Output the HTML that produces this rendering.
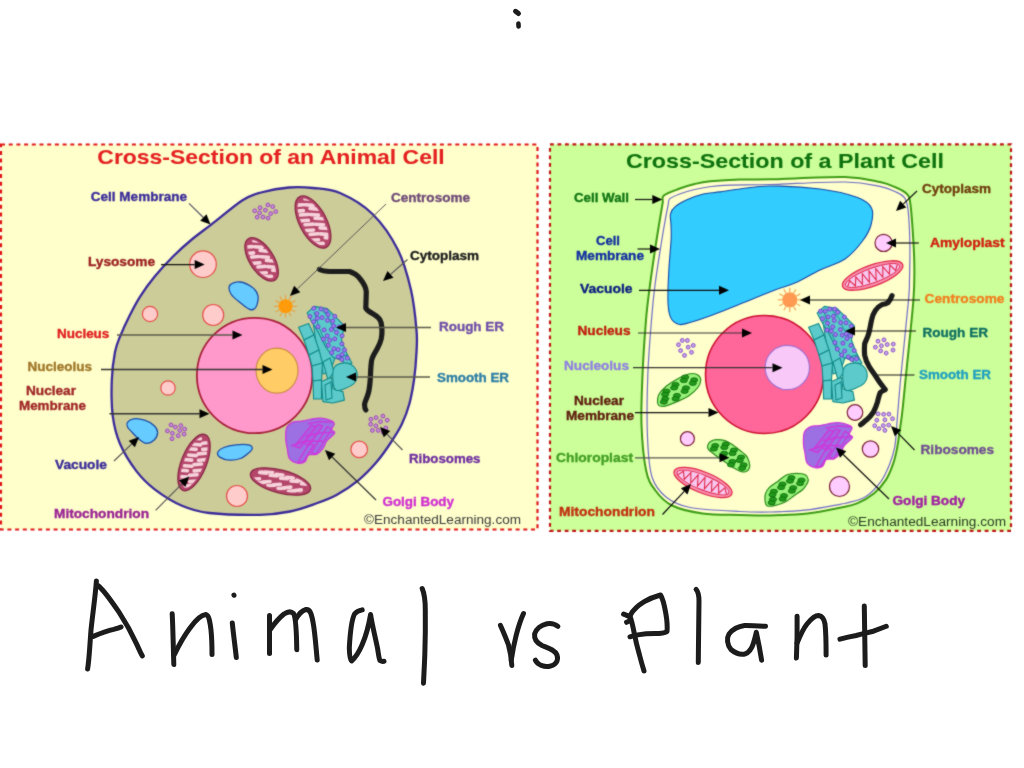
<!DOCTYPE html><html><head><meta charset="utf-8"><style>html,body{margin:0;padding:0;background:#fff;width:1024px;height:768px;overflow:hidden}svg{display:block;font-family:"Liberation Sans",sans-serif}</style></head><body>
<svg width="1024" height="768" viewBox="0 0 1024 768">
<rect width="1024" height="768" fill="#fff"/>
<g stroke="#1c1c1c" stroke-linecap="round" fill="none"><line x1="515.5" y1="11.3" x2="518.5" y2="13.6" stroke-width="5"/><line x1="518.4" y1="23.5" x2="518.6" y2="26.5" stroke-width="4.6"/></g>
<defs><filter id="soft" filterUnits="userSpaceOnUse" x="0" y="0" width="1024" height="768" color-interpolation-filters="sRGB"><feConvolveMatrix order="3" kernelMatrix="1 2 1 2 14 2 1 2 1" edgeMode="duplicate"/></filter></defs>
<g filter="url(#soft)">
<rect x="1" y="144.5" width="536.5" height="385" fill="#FFFFCC"/>
<rect x="1" y="144.5" width="536.5" height="385" fill="none" stroke="#E01818" stroke-width="2.2" stroke-dasharray="4 3.7"/>
<text x="97.3" y="163.6" fill="#E42020" stroke="#E42020" stroke-width="0.1" font-size="20.2" font-weight="bold" textLength="347.4" lengthAdjust="spacingAndGlyphs">Cross-Section of an Animal Cell</text>
<path d="M289.0,187.5 C297.7,186.8 304.5,187.1 313.0,188.0 C321.5,188.9 330.1,188.7 340.0,193.0 C349.9,197.3 362.8,204.5 372.5,214.0 C382.2,223.5 391.6,237.3 398.0,250.0 C404.4,262.7 407.9,276.7 411.0,290.0 C414.1,303.3 415.6,319.7 416.5,330.0 C417.4,340.3 416.9,343.7 416.5,352.0 C416.1,360.3 415.2,371.4 414.0,380.0 C412.8,388.6 411.4,396.4 409.4,403.7 C407.4,411.0 405.0,417.4 402.0,423.8 C399.0,430.2 395.4,435.6 391.2,442.0 C387.0,448.4 382.1,455.6 376.6,462.0 C371.1,468.4 365.0,474.8 358.3,480.3 C351.6,485.8 343.8,490.9 336.5,494.9 C329.2,498.8 322.4,501.2 314.6,504.0 C306.9,506.8 299.1,509.7 290.0,511.5 C280.9,513.3 273.4,514.6 260.0,514.9 C246.6,515.1 222.3,514.5 209.3,513.0 C196.3,511.5 191.1,509.6 182.0,505.7 C172.9,501.8 162.3,495.1 154.7,489.3 C147.1,483.5 142.2,478.7 136.4,471.1 C130.6,463.5 123.9,452.9 120.0,443.8 C116.1,434.7 114.2,427.0 112.8,416.4 C111.4,405.8 111.4,390.7 111.8,380.0 C112.2,369.3 113.6,359.2 115.0,352.0 C116.4,344.8 117.6,342.6 120.0,336.7 C122.4,330.8 125.8,323.3 129.2,316.6 C132.5,309.9 135.8,303.3 140.1,296.6 C144.3,289.9 149.2,283.2 154.7,276.5 C160.2,269.8 166.9,262.6 173.0,256.5 C179.1,250.4 184.8,245.3 191.2,240.0 C197.6,234.7 202.6,231.2 211.2,224.6 C219.8,218.0 234.2,205.7 242.5,200.3 C250.8,195.0 253.2,194.6 261.0,192.5 C268.8,190.4 280.3,188.2 289.0,187.5 Z" fill="#CCCC99" stroke="#3A2A9A" stroke-width="2.3"/>
<circle cx="203" cy="264.2" r="13.3" fill="#FFCCCC" stroke="#E4504A" stroke-width="1.2"/>
<circle cx="150" cy="314" r="7.6" fill="#FFCCCC" stroke="#E4504A" stroke-width="1.2"/>
<circle cx="213.2" cy="315" r="10.5" fill="#FFCCCC" stroke="#E4504A" stroke-width="1.2"/>
<circle cx="168" cy="388" r="7.2" fill="#FFCCCC" stroke="#E4504A" stroke-width="1.2"/>
<circle cx="237" cy="496" r="10.5" fill="#FFCCCC" stroke="#E4504A" stroke-width="1.2"/>
<circle cx="359.2" cy="449.4" r="8.3" fill="#FFCCCC" stroke="#E4504A" stroke-width="1.2"/>
<path d="M230.0,285.0 C231.5,283.0 236.2,281.6 240.0,282.0 C243.8,282.4 249.5,285.2 252.5,287.5 C255.5,289.8 257.4,292.8 258.0,296.0 C258.6,299.2 257.3,304.8 256.0,307.0 C254.7,309.2 252.7,310.2 250.0,309.5 C247.3,308.8 243.2,305.1 240.0,302.5 C236.8,299.9 232.7,296.9 231.0,294.0 C229.3,291.1 228.5,287.0 230.0,285.0 Z" fill="#66CCFF" stroke="#1E4EA8" stroke-width="1.3"/>
<path d="M127.5,422.3 C128.5,420.9 130.8,419.2 133.7,418.8 C136.5,418.4 141.2,419.1 144.6,420.2 C148.0,421.3 152.0,423.6 154.2,425.7 C156.4,427.8 157.6,430.1 157.6,432.5 C157.6,434.9 156.1,438.2 154.2,440.0 C152.3,441.8 148.5,443.5 146.0,443.4 C143.5,443.3 141.4,441.1 139.1,439.3 C136.8,437.5 134.2,434.6 132.3,432.5 C130.4,430.4 128.3,428.7 127.5,427.0 C126.7,425.3 126.5,423.7 127.5,422.3 Z" fill="#66CCFF" stroke="#1E4EA8" stroke-width="1.3"/>
<path d="M217.8,452.3 C218.5,450.7 220.8,448.8 223.9,447.5 C227.0,446.2 232.1,445.2 236.2,444.8 C240.3,444.4 245.8,444.2 248.5,444.8 C251.2,445.4 252.3,446.8 252.3,448.2 C252.3,449.6 250.5,451.3 248.5,453.0 C246.5,454.7 243.5,457.3 240.3,458.5 C237.1,459.7 232.8,460.3 229.4,460.1 C226.0,459.9 221.7,458.4 219.8,457.1 C217.9,455.8 217.1,453.9 217.8,452.3 Z" fill="#66CCFF" stroke="#1E4EA8" stroke-width="1.3"/>
<clipPath id="mc1"><ellipse cx="261.6" cy="259.4" rx="22.0" ry="9.4" transform="rotate(57.3 261.6 259.4)"/></clipPath>
<ellipse cx="261.6" cy="259.4" rx="24.6" ry="12" transform="rotate(57.3 261.6 259.4)" fill="#B4466A" stroke="#8A2646" stroke-width="1.3"/>
<g clip-path="url(#mc1)" stroke="#F6D2DA" stroke-width="3.6" stroke-linecap="round">
<line x1="253.7" y1="240.6" x2="260.9" y2="241.2"/>
<line x1="245.2" y1="247.2" x2="252.4" y2="246.6"/>
<line x1="254.9" y1="246.8" x2="262.1" y2="247.4"/>
<line x1="246.4" y1="253.5" x2="253.6" y2="252.9"/>
<line x1="260.1" y1="250.5" x2="267.3" y2="251.1"/>
<line x1="251.6" y1="257.1" x2="258.8" y2="256.5"/>
<line x1="261.2" y1="256.7" x2="268.4" y2="257.3"/>
<line x1="252.7" y1="263.4" x2="259.9" y2="262.8"/>
<line x1="266.4" y1="260.4" x2="273.6" y2="261.0"/>
<line x1="257.9" y1="267.0" x2="265.1" y2="266.4"/>
<line x1="267.6" y1="266.6" x2="274.8" y2="267.2"/>
<line x1="259.1" y1="273.3" x2="266.3" y2="272.7"/>
<line x1="272.8" y1="270.3" x2="280.0" y2="270.9"/>
<line x1="264.3" y1="276.9" x2="271.5" y2="276.3"/>
</g>
<clipPath id="mc2"><ellipse cx="313" cy="222" rx="26.0" ry="10.9" transform="rotate(62.4 313 222)"/></clipPath>
<ellipse cx="313" cy="222" rx="28.6" ry="13.5" transform="rotate(62.4 313 222)" fill="#B4466A" stroke="#8A2646" stroke-width="1.3"/>
<g clip-path="url(#mc2)" stroke="#F6D2DA" stroke-width="3.6" stroke-linecap="round">
<line x1="304.9" y1="198.8" x2="313.0" y2="199.4"/>
<line x1="294.9" y1="205.3" x2="303.0" y2="204.7"/>
<line x1="305.3" y1="204.8" x2="313.4" y2="205.4"/>
<line x1="295.3" y1="211.2" x2="303.4" y2="210.6"/>
<line x1="310.0" y1="208.5" x2="318.1" y2="209.1"/>
<line x1="299.9" y1="215.0" x2="308.0" y2="214.4"/>
<line x1="310.4" y1="214.5" x2="318.5" y2="215.1"/>
<line x1="300.3" y1="220.9" x2="308.4" y2="220.3"/>
<line x1="315.0" y1="218.2" x2="323.1" y2="218.8"/>
<line x1="305.0" y1="224.7" x2="313.1" y2="224.1"/>
<line x1="315.4" y1="224.2" x2="323.5" y2="224.8"/>
<line x1="305.4" y1="230.6" x2="313.5" y2="230.0"/>
<line x1="320.1" y1="227.9" x2="328.2" y2="228.5"/>
<line x1="310.1" y1="234.4" x2="318.2" y2="233.8"/>
<line x1="320.5" y1="233.9" x2="328.6" y2="234.5"/>
<line x1="310.5" y1="240.3" x2="318.6" y2="239.7"/>
<line x1="325.2" y1="237.6" x2="333.3" y2="238.2"/>
<line x1="315.1" y1="244.0" x2="323.2" y2="243.4"/>
</g>
<clipPath id="mc3"><ellipse cx="194" cy="462.5" rx="27.4" ry="9.9" transform="rotate(-68 194 462.5)"/></clipPath>
<ellipse cx="194" cy="462.5" rx="30" ry="12.5" transform="rotate(-68 194 462.5)" fill="#B4466A" stroke="#8A2646" stroke-width="1.3"/>
<g clip-path="url(#mc3)" stroke="#F6D2DA" stroke-width="3.6" stroke-linecap="round">
<line x1="175.6" y1="480.9" x2="183.1" y2="481.5"/>
<line x1="185.3" y1="486.0" x2="192.8" y2="485.4"/>
<line x1="180.0" y1="476.5" x2="187.5" y2="477.1"/>
<line x1="189.7" y1="481.6" x2="197.2" y2="481.0"/>
<line x1="179.9" y1="470.2" x2="187.4" y2="470.8"/>
<line x1="189.7" y1="475.3" x2="197.2" y2="474.7"/>
<line x1="184.3" y1="465.7" x2="191.8" y2="466.3"/>
<line x1="194.1" y1="470.9" x2="201.6" y2="470.3"/>
<line x1="184.3" y1="459.5" x2="191.8" y2="460.1"/>
<line x1="194.0" y1="464.6" x2="201.5" y2="464.0"/>
<line x1="188.7" y1="455.0" x2="196.2" y2="455.6"/>
<line x1="198.4" y1="460.2" x2="205.9" y2="459.6"/>
<line x1="188.6" y1="448.8" x2="196.1" y2="449.4"/>
<line x1="198.3" y1="453.9" x2="205.8" y2="453.3"/>
<line x1="193.0" y1="444.3" x2="200.5" y2="444.9"/>
<line x1="202.7" y1="449.4" x2="210.2" y2="448.8"/>
<line x1="192.9" y1="438.1" x2="200.4" y2="438.7"/>
<line x1="202.7" y1="443.2" x2="210.2" y2="442.6"/>
</g>
<clipPath id="mc4"><ellipse cx="280.5" cy="481.5" rx="28.4" ry="8.9" transform="rotate(15 280.5 481.5)"/></clipPath>
<ellipse cx="280.5" cy="481.5" rx="31" ry="11.5" transform="rotate(15 280.5 481.5)" fill="#B4466A" stroke="#8A2646" stroke-width="1.3"/>
<g clip-path="url(#mc4)" stroke="#F6D2DA" stroke-width="3.6" stroke-linecap="round">
<line x1="255.1" y1="468.8" x2="262.0" y2="469.4"/>
<line x1="252.6" y1="479.3" x2="259.5" y2="478.7"/>
<line x1="259.7" y1="472.5" x2="266.6" y2="473.1"/>
<line x1="257.2" y1="483.0" x2="264.1" y2="482.4"/>
<line x1="265.6" y1="471.6" x2="272.5" y2="472.2"/>
<line x1="263.1" y1="482.1" x2="270.0" y2="481.5"/>
<line x1="270.2" y1="475.3" x2="277.1" y2="475.9"/>
<line x1="267.7" y1="485.8" x2="274.6" y2="485.2"/>
<line x1="276.0" y1="474.4" x2="282.9" y2="475.0"/>
<line x1="273.5" y1="484.9" x2="280.4" y2="484.3"/>
<line x1="280.6" y1="478.1" x2="287.5" y2="478.7"/>
<line x1="278.1" y1="488.6" x2="285.0" y2="488.0"/>
<line x1="286.4" y1="477.2" x2="293.3" y2="477.8"/>
<line x1="283.9" y1="487.7" x2="290.8" y2="487.1"/>
<line x1="291.0" y1="480.9" x2="297.9" y2="481.5"/>
<line x1="288.5" y1="491.4" x2="295.4" y2="490.8"/>
<line x1="296.9" y1="480.0" x2="303.8" y2="480.6"/>
<line x1="294.4" y1="490.5" x2="301.3" y2="489.9"/>
<line x1="301.5" y1="483.7" x2="308.4" y2="484.3"/>
<line x1="299.0" y1="494.2" x2="305.9" y2="493.6"/>
</g>
<circle cx="254.6" cy="375.5" r="57.7" fill="#FF99CC" stroke="#A8203A" stroke-width="1.8"/>
<ellipse cx="277" cy="370.6" rx="21" ry="22.5" fill="#FFCC66" stroke="#C88A40" stroke-width="1.1"/>
<circle cx="259.6" cy="212.8" r="1.9" fill="#C890D8" stroke="#9A48B0" stroke-width="1"/>
<circle cx="267.9" cy="204.9" r="1.9" fill="#C890D8" stroke="#9A48B0" stroke-width="1"/>
<circle cx="260.1" cy="207.7" r="1.9" fill="#C890D8" stroke="#9A48B0" stroke-width="1"/>
<circle cx="275.7" cy="211.6" r="1.9" fill="#C890D8" stroke="#9A48B0" stroke-width="1"/>
<circle cx="268.1" cy="218.1" r="1.9" fill="#C890D8" stroke="#9A48B0" stroke-width="1"/>
<circle cx="270.7" cy="213.6" r="1.9" fill="#C890D8" stroke="#9A48B0" stroke-width="1"/>
<circle cx="263.0" cy="217.0" r="1.9" fill="#C890D8" stroke="#9A48B0" stroke-width="1"/>
<circle cx="265.4" cy="210.2" r="1.9" fill="#C890D8" stroke="#9A48B0" stroke-width="1"/>
<circle cx="272.7" cy="206.6" r="1.9" fill="#C890D8" stroke="#9A48B0" stroke-width="1"/>
<circle cx="257.2" cy="217.2" r="1.9" fill="#C890D8" stroke="#9A48B0" stroke-width="1"/>
<circle cx="254.7" cy="210.8" r="1.9" fill="#C890D8" stroke="#9A48B0" stroke-width="1"/>
<circle cx="178.2" cy="435.7" r="1.9" fill="#C890D8" stroke="#9A48B0" stroke-width="1"/>
<circle cx="167.4" cy="430.9" r="1.9" fill="#C890D8" stroke="#9A48B0" stroke-width="1"/>
<circle cx="184.1" cy="434.1" r="1.9" fill="#C890D8" stroke="#9A48B0" stroke-width="1"/>
<circle cx="175.4" cy="427.1" r="1.9" fill="#C890D8" stroke="#9A48B0" stroke-width="1"/>
<circle cx="172.0" cy="438.7" r="1.9" fill="#C890D8" stroke="#9A48B0" stroke-width="1"/>
<circle cx="180.8" cy="425.6" r="1.9" fill="#C890D8" stroke="#9A48B0" stroke-width="1"/>
<circle cx="172.4" cy="433.3" r="1.9" fill="#C890D8" stroke="#9A48B0" stroke-width="1"/>
<circle cx="171.0" cy="424.9" r="1.9" fill="#C890D8" stroke="#9A48B0" stroke-width="1"/>
<circle cx="179.8" cy="430.6" r="1.9" fill="#C890D8" stroke="#9A48B0" stroke-width="1"/>
<circle cx="184.7" cy="429.1" r="1.9" fill="#C890D8" stroke="#9A48B0" stroke-width="1"/>
<circle cx="376.1" cy="417.6" r="1.9" fill="#C890D8" stroke="#9A48B0" stroke-width="1"/>
<circle cx="382.9" cy="416.1" r="1.9" fill="#C890D8" stroke="#9A48B0" stroke-width="1"/>
<circle cx="380.5" cy="421.6" r="1.9" fill="#C890D8" stroke="#9A48B0" stroke-width="1"/>
<circle cx="370.6" cy="424.3" r="1.9" fill="#C890D8" stroke="#9A48B0" stroke-width="1"/>
<circle cx="378.2" cy="430.4" r="1.9" fill="#C890D8" stroke="#9A48B0" stroke-width="1"/>
<circle cx="387.2" cy="420.2" r="1.9" fill="#C890D8" stroke="#9A48B0" stroke-width="1"/>
<circle cx="375.9" cy="425.8" r="1.9" fill="#C890D8" stroke="#9A48B0" stroke-width="1"/>
<circle cx="385.8" cy="428.0" r="1.9" fill="#C890D8" stroke="#9A48B0" stroke-width="1"/>
<circle cx="372.4" cy="430.4" r="1.9" fill="#C890D8" stroke="#9A48B0" stroke-width="1"/>
<circle cx="370.9" cy="419.3" r="1.9" fill="#C890D8" stroke="#9A48B0" stroke-width="1"/>
<circle cx="383.2" cy="432.3" r="1.9" fill="#C890D8" stroke="#9A48B0" stroke-width="1"/>
<line x1="292.5" y1="306.3" x2="297.0" y2="306.3" stroke="#E8A040" stroke-width="1.1"/>
<line x1="291.6" y1="309.8" x2="295.5" y2="312.1" stroke="#E8A040" stroke-width="1.1"/>
<line x1="289.0" y1="312.4" x2="291.2" y2="316.3" stroke="#E8A040" stroke-width="1.1"/>
<line x1="285.5" y1="313.3" x2="285.5" y2="317.8" stroke="#E8A040" stroke-width="1.1"/>
<line x1="282.0" y1="312.4" x2="279.8" y2="316.3" stroke="#E8A040" stroke-width="1.1"/>
<line x1="279.4" y1="309.8" x2="275.5" y2="312.1" stroke="#E8A040" stroke-width="1.1"/>
<line x1="278.5" y1="306.3" x2="274.0" y2="306.3" stroke="#E8A040" stroke-width="1.1"/>
<line x1="279.4" y1="302.8" x2="275.5" y2="300.6" stroke="#E8A040" stroke-width="1.1"/>
<line x1="282.0" y1="300.2" x2="279.8" y2="296.3" stroke="#E8A040" stroke-width="1.1"/>
<line x1="285.5" y1="299.3" x2="285.5" y2="294.8" stroke="#E8A040" stroke-width="1.1"/>
<line x1="289.0" y1="300.2" x2="291.2" y2="296.3" stroke="#E8A040" stroke-width="1.1"/>
<line x1="291.6" y1="302.8" x2="295.5" y2="300.6" stroke="#E8A040" stroke-width="1.1"/>
<circle cx="285.5" cy="306.3" r="7" fill="#FF9A0A"/>
<polygon points="313.0,322.0 321.0,318.0 330.0,340.0 335.0,358.0 330.0,372.0 323.0,374.0 321.0,360.0 316.0,342.0" fill="#5CCACA" stroke="#128A8A" stroke-width="1.1" stroke-linejoin="round"/>
<polygon points="323.0,362.0 330.0,358.0 334.0,372.0 328.0,380.0" fill="#5CCACA" stroke="#128A8A" stroke-width="1.1" stroke-linejoin="round"/>
<polygon points="307.2,312.9 314.3,306.4 327.2,308.6 337.2,318.6 344.4,325.8 341.5,340.0 345.8,351.5 350.1,360.1 344.4,361.5 332.9,357.2 325.8,347.2 318.6,332.9 311.5,321.5" fill="#5CCACA" stroke="#128A8A" stroke-width="1.1" stroke-linejoin="round"/>
<polygon points="298.6,327.2 308.6,323.5 314.0,335.0 304.0,340.0" fill="#5CCACA" stroke="#128A8A" stroke-width="1.1" stroke-linejoin="round"/>
<polygon points="304.0,340.0 314.0,335.0 319.0,350.0 309.0,355.0" fill="#5CCACA" stroke="#128A8A" stroke-width="1.1" stroke-linejoin="round"/>
<polygon points="309.0,355.0 319.0,350.0 322.5,363.0 312.0,366.0" fill="#5CCACA" stroke="#128A8A" stroke-width="1.1" stroke-linejoin="round"/>
<polygon points="312.0,366.0 322.5,363.0 321.5,380.0 313.0,381.0" fill="#5CCACA" stroke="#128A8A" stroke-width="1.1" stroke-linejoin="round"/>
<polygon points="313.0,381.0 321.5,380.0 321.5,399.0 313.6,399.0" fill="#5CCACA" stroke="#128A8A" stroke-width="1.1" stroke-linejoin="round"/>
<polygon points="340.0,357.0 347.0,355.0 352.0,363.0 346.0,366.0" fill="#5CCACA" stroke="#128A8A" stroke-width="1.1" stroke-linejoin="round"/>
<polygon points="321.5,381.5 331.5,377.3 332.9,388.7 342.9,391.6 344.4,400.1 332.9,403.0 322.9,401.6" fill="#5CCACA" stroke="#128A8A" stroke-width="1.1" stroke-linejoin="round"/>
<polygon points="325.0,385.0 331.0,382.0 332.0,398.0 326.0,400.0" fill="#5CCACA" stroke="#128A8A" stroke-width="1.1" stroke-linejoin="round"/>
<path d="M334.3,367.2 C336.2,364.3 341.3,363.1 344.4,362.9 C347.5,362.7 350.9,363.9 353.0,365.8 C355.1,367.7 357.0,371.5 357.2,374.4 C357.4,377.3 356.5,380.6 354.4,383.0 C352.3,385.4 347.5,387.5 344.4,388.7 C341.3,389.9 337.7,391.5 335.8,390.1 C333.9,388.7 333.1,383.9 332.9,380.1 C332.6,376.3 332.4,370.1 334.3,367.2 Z" fill="#5CCACA" stroke="#128A8A" stroke-width="1.1"/>
<line x1="314" y1="312" x2="320" y2="330" stroke="#128A8A" stroke-width="0.9"/>
<line x1="320" y1="330" x2="328" y2="348" stroke="#128A8A" stroke-width="0.9"/>
<line x1="322" y1="310" x2="332" y2="322" stroke="#128A8A" stroke-width="0.9"/>
<line x1="330" y1="322" x2="338" y2="336" stroke="#128A8A" stroke-width="0.9"/>
<line x1="316" y1="320" x2="312" y2="324" stroke="#128A8A" stroke-width="0.9"/>
<circle cx="327.2" cy="335.8" r="2.0" fill="#9A7CEC" stroke="#6A44CC" stroke-width="0.9"/>
<circle cx="333.9" cy="348.6" r="2.0" fill="#9A7CEC" stroke="#6A44CC" stroke-width="0.9"/>
<circle cx="313.6" cy="321.7" r="2.0" fill="#9A7CEC" stroke="#6A44CC" stroke-width="0.9"/>
<circle cx="347.3" cy="358.1" r="2.0" fill="#9A7CEC" stroke="#6A44CC" stroke-width="0.9"/>
<circle cx="334.8" cy="338.9" r="2.0" fill="#9A7CEC" stroke="#6A44CC" stroke-width="0.9"/>
<circle cx="317.2" cy="318.3" r="2.0" fill="#9A7CEC" stroke="#6A44CC" stroke-width="0.9"/>
<circle cx="329.7" cy="340.2" r="2.0" fill="#9A7CEC" stroke="#6A44CC" stroke-width="0.9"/>
<circle cx="327.4" cy="320.3" r="2.0" fill="#9A7CEC" stroke="#6A44CC" stroke-width="0.9"/>
<circle cx="341.9" cy="343.9" r="2.0" fill="#9A7CEC" stroke="#6A44CC" stroke-width="0.9"/>
<circle cx="322.0" cy="317.6" r="2.0" fill="#9A7CEC" stroke="#6A44CC" stroke-width="0.9"/>
<circle cx="321.0" cy="308.9" r="2.0" fill="#9A7CEC" stroke="#6A44CC" stroke-width="0.9"/>
<circle cx="339.1" cy="327.0" r="2.0" fill="#9A7CEC" stroke="#6A44CC" stroke-width="0.9"/>
<circle cx="310.0" cy="316.5" r="2.0" fill="#9A7CEC" stroke="#6A44CC" stroke-width="0.9"/>
<circle cx="313.8" cy="308.3" r="2.0" fill="#9A7CEC" stroke="#6A44CC" stroke-width="0.9"/>
<circle cx="331.3" cy="329.6" r="2.0" fill="#9A7CEC" stroke="#6A44CC" stroke-width="0.9"/>
<circle cx="318.0" cy="326.7" r="2.0" fill="#9A7CEC" stroke="#6A44CC" stroke-width="0.9"/>
<circle cx="324.1" cy="329.9" r="2.0" fill="#9A7CEC" stroke="#6A44CC" stroke-width="0.9"/>
<circle cx="331.8" cy="352.7" r="2.0" fill="#9A7CEC" stroke="#6A44CC" stroke-width="0.9"/>
<circle cx="316.9" cy="313.5" r="2.0" fill="#9A7CEC" stroke="#6A44CC" stroke-width="0.9"/>
<circle cx="344.5" cy="350.0" r="2.0" fill="#9A7CEC" stroke="#6A44CC" stroke-width="0.9"/>
<circle cx="338.1" cy="356.7" r="2.0" fill="#9A7CEC" stroke="#6A44CC" stroke-width="0.9"/>
<circle cx="326.0" cy="310.7" r="2.0" fill="#9A7CEC" stroke="#6A44CC" stroke-width="0.9"/>
<circle cx="332.7" cy="321.1" r="2.0" fill="#9A7CEC" stroke="#6A44CC" stroke-width="0.9"/>
<circle cx="328.3" cy="345.2" r="2.0" fill="#9A7CEC" stroke="#6A44CC" stroke-width="0.9"/>
<circle cx="333.7" cy="326.0" r="2.0" fill="#9A7CEC" stroke="#6A44CC" stroke-width="0.9"/>
<circle cx="336.5" cy="332.3" r="2.0" fill="#9A7CEC" stroke="#6A44CC" stroke-width="0.9"/>
<circle cx="343.5" cy="326.1" r="2.0" fill="#9A7CEC" stroke="#6A44CC" stroke-width="0.9"/>
<circle cx="328.1" cy="314.8" r="2.0" fill="#9A7CEC" stroke="#6A44CC" stroke-width="0.9"/>
<circle cx="334.8" cy="316.3" r="2.0" fill="#9A7CEC" stroke="#6A44CC" stroke-width="0.9"/>
<circle cx="342.1" cy="335.8" r="2.0" fill="#9A7CEC" stroke="#6A44CC" stroke-width="0.9"/>
<circle cx="342.1" cy="354.5" r="2.0" fill="#9A7CEC" stroke="#6A44CC" stroke-width="0.9"/>
<circle cx="323.5" cy="339.1" r="2.0" fill="#9A7CEC" stroke="#6A44CC" stroke-width="0.9"/>
<circle cx="338.1" cy="349.6" r="2.0" fill="#9A7CEC" stroke="#6A44CC" stroke-width="0.9"/>
<circle cx="341.9" cy="359.5" r="2.0" fill="#9A7CEC" stroke="#6A44CC" stroke-width="0.9"/>
<path d="M286.6,428.0 C287.8,425.1 290.6,423.3 293.1,422.2 C295.7,421.1 299.0,421.6 301.9,421.1 C304.8,420.6 307.5,419.8 310.6,419.3 C313.8,418.8 317.4,418.0 320.8,418.2 C324.2,418.4 328.8,419.8 331.0,420.7 C333.2,421.6 334.2,422.2 334.3,423.7 C334.4,425.2 331.4,427.9 331.5,429.5 C331.6,431.1 335.5,431.2 334.7,433.1 C333.9,435.1 328.6,438.6 326.6,441.2 C324.7,443.8 324.7,446.2 323.0,448.4 C321.3,450.6 318.8,453.2 316.4,454.3 C314.0,455.4 310.4,453.8 308.5,455.0 C306.6,456.2 306.8,460.3 305.0,461.6 C303.2,462.9 300.1,463.5 297.5,463.0 C294.9,462.5 291.2,461.0 289.5,458.6 C287.8,456.2 287.9,451.5 287.3,448.4 C286.7,445.2 285.9,443.1 285.8,439.7 C285.7,436.3 285.4,430.9 286.6,428.0 Z" fill="#9C70E2" stroke="#CC38DC" stroke-width="1.3"/>
<g transform="translate(0,0)" fill="none" stroke="#CC38DC" stroke-width="1.4" stroke-linejoin="round">
<polygon points="294.6,446.3 311.3,425.1 316,427 300,448" fill="#A860E0"/>
<polygon points="304,442.6 317.9,424.4 322.5,426 308.5,446" fill="#A860E0"/>
<polygon points="311.3,452.8 327.4,426.6 331.5,429.5 316,454"/>
<polygon points="298.2,461.6 309.2,443.3 314,445 303,462"/>
<polyline points="291,446 305,441 323.7,441.2"/>
<polyline points="305.5,436 320,433 334,432.4"/>
<polyline points="307.7,423.7 320,421.5 332.5,422.2"/>
</g>
<path d="M319.4,269.4 C322,271 325,271.5 330,271.5 L349.6,271.5 C354,273 358,276 360,278.75 C363.5,283 366,287 366.3,292 L365.8,308 C367,311 370,312 372.5,313.5 C377,316 380.5,319 381.2,323 C382.5,330 382,335 381.2,339 C380,344 378,347 376.7,349.6 C374,354 372,357 371.5,361 C370.8,366 370.6,371 370.4,377 C370,384 369.5,389 368.3,393.3 C367,398 365,401 364.6,404 C364.5,407 365,409 365.8,410" fill="none" stroke="#1c1c1c" stroke-width="5.2" stroke-linecap="round" stroke-linejoin="round"/>
<text x="90.8" y="200.6" fill="#3B2D99" stroke="#3B2D99" stroke-width="0.35" font-size="12" font-weight="bold" textLength="96.2" lengthAdjust="spacingAndGlyphs">Cell Membrane</text>
<text x="87.9" y="266.3" fill="#9B2222" stroke="#9B2222" stroke-width="0.35" font-size="12" font-weight="bold" textLength="67.3" lengthAdjust="spacingAndGlyphs">Lysosome</text>
<text x="57" y="338" fill="#E02020" stroke="#E02020" stroke-width="0.35" font-size="12" font-weight="bold" textLength="52.3" lengthAdjust="spacingAndGlyphs">Nucleus</text>
<text x="27.5" y="371" fill="#A0782A" stroke="#A0782A" stroke-width="0.35" font-size="12" font-weight="bold" textLength="64.5" lengthAdjust="spacingAndGlyphs">Nucleolus</text>
<text x="26" y="395" fill="#A02828" stroke="#A02828" stroke-width="0.35" font-size="12" font-weight="bold" textLength="50.0" lengthAdjust="spacingAndGlyphs">Nuclear</text>
<text x="19" y="410" fill="#A02828" stroke="#A02828" stroke-width="0.35" font-size="12" font-weight="bold" textLength="67.0" lengthAdjust="spacingAndGlyphs">Membrane</text>
<text x="55" y="469" fill="#3B2D99" stroke="#3B2D99" stroke-width="0.35" font-size="12" font-weight="bold" textLength="52.0" lengthAdjust="spacingAndGlyphs">Vacuole</text>
<text x="54" y="518" fill="#9A2494" stroke="#9A2494" stroke-width="0.35" font-size="12" font-weight="bold" textLength="95.0" lengthAdjust="spacingAndGlyphs">Mitochondrion</text>
<text x="391" y="202" fill="#704C78" stroke="#704C78" stroke-width="0.35" font-size="12" font-weight="bold" textLength="79.0" lengthAdjust="spacingAndGlyphs">Centrosome</text>
<text x="410" y="260.3" fill="#1E1E1E" stroke="#1E1E1E" stroke-width="0.35" font-size="12" font-weight="bold" textLength="69.0" lengthAdjust="spacingAndGlyphs">Cytoplasm</text>
<text x="439" y="330.5" fill="#7050A8" stroke="#7050A8" stroke-width="0.35" font-size="12" font-weight="bold" textLength="65.0" lengthAdjust="spacingAndGlyphs">Rough ER</text>
<text x="437" y="382" fill="#2E7EA6" stroke="#2E7EA6" stroke-width="0.35" font-size="12" font-weight="bold" textLength="72.0" lengthAdjust="spacingAndGlyphs">Smooth ER</text>
<text x="409" y="463" fill="#7030A0" stroke="#7030A0" stroke-width="0.35" font-size="12" font-weight="bold" textLength="71.5" lengthAdjust="spacingAndGlyphs">Ribosomes</text>
<text x="382.5" y="506.3" fill="#D030D0" stroke="#D030D0" stroke-width="0.35" font-size="12" font-weight="bold" textLength="71.5" lengthAdjust="spacingAndGlyphs">Golgi Body</text>
<text x="364" y="523.5" fill="#3C3C3C" font-size="12" font-weight="normal" textLength="157.0" lengthAdjust="spacingAndGlyphs">©EnchantedLearning.com</text>
<line x1="189.0" y1="203.4" x2="203.4" y2="217.5" stroke="#556" stroke-width="1.2"/>
<polygon points="210.5,224.5 200.2,220.7 206.5,214.3" fill="#000"/>
<line x1="161.0" y1="264.6" x2="194.7" y2="264.6" stroke="#111" stroke-width="1.2"/>
<polygon points="204.7,264.6 194.7,269.1 194.7,260.1" fill="#000"/>
<line x1="117.0" y1="335.0" x2="232.5" y2="335.0" stroke="#5a5a4a" stroke-width="1.6"/>
<polygon points="242.5,335.0 232.5,339.5 232.5,330.5" fill="#000"/>
<line x1="101.0" y1="369.5" x2="262.5" y2="369.5" stroke="#333" stroke-width="1.3"/>
<polygon points="272.5,369.5 262.5,374.0 262.5,365.0" fill="#000"/>
<line x1="109.5" y1="413.8" x2="199.5" y2="413.8" stroke="#333" stroke-width="1.5"/>
<polygon points="209.5,413.8 199.5,418.3 199.5,409.3" fill="#000"/>
<line x1="114.0" y1="461.0" x2="131.8" y2="443.9" stroke="#555" stroke-width="1.2"/>
<polygon points="139.0,437.0 134.9,447.2 128.7,440.7" fill="#000"/>
<line x1="155.6" y1="510.3" x2="182.2" y2="483.7" stroke="#555" stroke-width="1.2"/>
<polygon points="189.3,476.6 185.4,486.9 179.0,480.5" fill="#000"/>
<line x1="386.0" y1="204.0" x2="297.2" y2="289.1" stroke="#555" stroke-width="1"/>
<polygon points="290.0,296.0 294.1,285.8 300.3,292.3" fill="#000"/>
<line x1="407.5" y1="259.5" x2="390.5" y2="274.4" stroke="#555" stroke-width="1.2"/>
<polygon points="383.0,281.0 387.5,271.0 393.5,277.8" fill="#000"/>
<line x1="431.0" y1="327.5" x2="346.0" y2="327.5" stroke="#5a5a4a" stroke-width="1.5"/>
<polygon points="336.0,327.5 346.0,323.0 346.0,332.0" fill="#000"/>
<line x1="430.0" y1="377.0" x2="356.0" y2="377.0" stroke="#5a5a4a" stroke-width="1.5"/>
<polygon points="346.0,377.0 356.0,372.5 356.0,381.5" fill="#000"/>
<line x1="402.5" y1="450.0" x2="387.0" y2="434.1" stroke="#555" stroke-width="1.2"/>
<polygon points="380.0,427.0 390.2,431.0 383.8,437.3" fill="#000"/>
<line x1="376.0" y1="500.0" x2="332.1" y2="457.0" stroke="#333" stroke-width="1.2"/>
<polygon points="325.0,450.0 335.3,453.8 329.0,460.2" fill="#000"/>
<rect x="550" y="144.3" width="461" height="386.5" fill="#CCFF99"/>
<rect x="550" y="144.3" width="461" height="386.5" fill="none" stroke="#C01414" stroke-width="2.2" stroke-dasharray="3.8 3.7"/>
<text x="626" y="167.6" fill="#0E720E" stroke="#0E720E" stroke-width="0.1" font-size="20.8" font-weight="bold" textLength="318.0" lengthAdjust="spacingAndGlyphs">Cross-Section of a Plant Cell</text>
<path d="M663.8,195.4 C666.5,193.1 673.9,190.7 679.0,188.8 C684.1,186.8 689.5,185.2 694.7,184.0 C699.9,182.8 702.8,182.1 710.3,181.3 C717.8,180.6 730.0,179.8 740.0,179.5 C750.0,179.2 752.5,179.7 770.0,179.3 C787.5,178.9 826.7,176.6 845.0,177.0 C863.3,177.4 871.5,180.2 880.0,182.0 C888.5,183.8 891.6,185.6 896.0,187.5 C900.4,189.4 904.1,191.2 906.4,193.5 C908.7,195.8 909.0,195.7 910.0,201.4 C911.0,207.1 911.8,217.4 912.5,227.7 C913.2,237.9 914.1,250.8 914.3,262.9 C914.4,274.9 914.8,281.3 913.4,300.0 C912.0,318.7 907.8,356.7 906.0,375.0 C904.2,393.3 903.5,400.8 902.5,410.0 C901.5,419.2 900.7,423.8 899.8,430.0 C898.9,436.2 898.4,441.4 897.3,447.1 C896.2,452.8 894.9,458.8 893.0,464.2 C891.1,469.6 889.2,474.8 886.1,479.6 C883.0,484.4 879.0,489.2 874.2,493.2 C869.4,497.2 862.8,501.0 857.1,503.4 C851.4,505.8 848.3,506.0 840.0,507.7 C831.7,509.4 819.2,512.2 807.5,513.5 C795.8,514.8 781.2,515.2 770.0,515.5 C758.8,515.8 751.2,515.3 740.0,515.0 C728.8,514.7 713.8,515.1 702.5,513.5 C691.2,511.9 679.9,509.4 672.0,505.5 C664.1,501.6 659.3,495.9 655.0,490.0 C650.7,484.1 648.2,480.8 646.0,470.0 C643.8,459.2 642.1,440.8 641.5,425.0 C640.9,409.2 641.8,392.5 642.5,375.0 C643.2,357.5 644.8,335.0 646.0,320.0 C647.2,305.0 648.5,296.7 650.0,285.0 C651.5,273.3 653.3,261.4 655.0,250.0 C656.7,238.7 659.0,224.8 660.3,216.9 C661.6,209.0 662.1,206.4 662.7,202.8 C663.3,199.2 661.1,197.7 663.8,195.4 Z" fill="#FFFFCC" stroke="#3C9C14" stroke-width="2"/>
<path d="M669.7,198.9 C671.5,197.1 674.8,195.8 679.0,194.2 C683.2,192.6 687.9,190.9 694.7,189.5 C701.5,188.1 707.5,186.4 720.0,185.6 C732.5,184.8 749.2,185.1 770.0,184.5 C790.8,183.9 826.7,181.7 845.0,182.0 C863.3,182.3 871.5,184.7 880.0,186.4 C888.5,188.1 891.9,190.1 896.0,192.0 C900.1,193.9 902.6,194.9 904.6,197.9 C906.6,200.9 907.2,202.3 908.1,210.2 C909.0,218.1 909.7,233.7 909.9,245.3 C910.1,256.9 909.7,270.9 909.5,280.0 C909.3,289.1 909.9,284.2 908.5,300.0 C907.1,315.8 902.8,356.7 901.0,375.0 C899.2,393.3 898.8,400.8 898.0,410.0 C897.2,419.2 896.9,423.8 896.4,430.0 C895.9,436.2 895.8,441.4 894.7,447.1 C893.6,452.8 891.9,458.5 889.6,464.2 C887.3,469.9 885.0,475.9 881.0,481.3 C877.0,486.7 871.0,493.1 865.6,496.7 C860.2,500.2 852.8,501.3 848.5,502.6 C844.2,503.9 847.2,503.0 840.0,504.3 C832.8,505.6 816.7,508.9 805.0,510.2 C793.3,511.5 780.8,511.8 770.0,512.0 C759.2,512.2 753.3,512.2 740.0,511.5 C726.7,510.8 702.3,509.9 690.0,507.5 C677.7,505.1 672.3,502.1 666.0,497.0 C659.7,491.9 655.1,486.9 652.0,477.0 C648.9,467.1 648.2,454.5 647.5,437.5 C646.8,420.5 647.1,394.6 647.8,375.0 C648.5,355.4 650.3,335.0 651.5,320.0 C652.7,305.0 653.4,297.5 655.0,285.0 C656.6,272.5 659.2,256.4 661.0,245.0 C662.8,233.7 664.6,223.5 665.8,216.9 C667.0,210.3 667.5,208.2 668.1,205.2 C668.8,202.2 667.9,200.7 669.7,198.9 Z" fill="none" stroke="#6B6BC4" stroke-width="1.2"/>
<path d="M670.5,213.8 C671.2,210.7 672.5,209.0 675.2,206.7 C677.9,204.4 682.4,201.8 686.9,199.7 C691.4,197.6 697.0,195.5 702.5,194.2 C708.0,192.9 713.8,192.8 720.0,191.9 C726.2,191.0 731.7,190.0 740.0,189.0 C748.3,188.0 756.7,186.0 770.0,186.0 C783.3,186.0 805.4,187.1 820.0,189.0 C834.6,190.9 848.9,194.3 857.5,197.5 C866.1,200.7 869.2,203.4 871.5,208.0 C873.8,212.6 872.5,219.5 871.0,225.0 C869.5,230.5 866.8,235.3 862.5,241.0 C858.2,246.7 852.1,254.2 845.0,259.0 C837.9,263.8 828.2,266.1 820.0,270.0 C811.8,273.9 803.5,279.2 796.0,282.5 C788.5,285.8 783.7,286.7 775.0,290.0 C766.3,293.3 754.2,298.3 743.8,302.5 C733.3,306.7 722.1,311.5 712.5,315.0 C702.9,318.5 692.0,322.2 686.0,323.6 C680.0,325.0 679.2,324.8 676.6,323.6 C674.0,322.4 671.7,320.1 670.3,316.6 C668.9,313.1 668.3,310.1 668.0,302.5 C667.7,294.9 668.2,281.7 668.8,271.2 C669.3,260.8 670.7,247.7 671.1,240.0 C671.5,232.3 671.1,229.4 671.0,225.0 C670.9,220.6 669.8,216.8 670.5,213.8 Z" fill="#33CCFF" stroke="#1448A8" stroke-width="1.1"/>
<circle cx="883.6" cy="242.9" r="8.6" fill="#FFCCFF" stroke="#7A2038" stroke-width="1.2"/>
<circle cx="687.4" cy="438.7" r="7.0" fill="#FFCCFF" stroke="#7A2038" stroke-width="1.2"/>
<circle cx="855" cy="412.5" r="7.8" fill="#FFCCFF" stroke="#7A2038" stroke-width="1.2"/>
<circle cx="870.5" cy="449" r="8.2" fill="#FFCCFF" stroke="#7A2038" stroke-width="1.2"/>
<circle cx="839.5" cy="486.5" r="10" fill="#FFCCFF" stroke="#7A2038" stroke-width="1.2"/>
<clipPath id="mc5"><ellipse cx="872.6" cy="275.5" rx="29.4" ry="7.9" transform="rotate(-20 872.6 275.5)"/></clipPath>
<ellipse cx="872.6" cy="275.5" rx="32" ry="10.5" transform="rotate(-20 872.6 275.5)" fill="#F890B0" stroke="#E02848" stroke-width="1.3"/>
<ellipse cx="872.6" cy="275.5" rx="28.8" ry="7.3" transform="rotate(-20 872.6 275.5)" fill="#F8C8F0" stroke="#E02848" stroke-width="0.9"/>
<polyline points="847.9,286.5 849.5,280.5 855.4,286.0 855.8,276.8 862.4,284.4 862.4,273.7 869.4,282.4 869.0,271.0 876.2,280.0 875.8,268.6 882.8,277.3 882.8,266.6 889.4,274.2 889.8,265.0 895.7,270.5 897.3,264.5" fill="none" stroke="#E02848" stroke-width="1.1"/>
<clipPath id="mc6"><ellipse cx="703" cy="482.5" rx="28.4" ry="7.9" transform="rotate(21.8 703 482.5)"/></clipPath>
<ellipse cx="703" cy="482.5" rx="31" ry="10.5" transform="rotate(21.8 703 482.5)" fill="#F890B0" stroke="#E02848" stroke-width="1.3"/>
<ellipse cx="703" cy="482.5" rx="27.8" ry="7.3" transform="rotate(21.8 703 482.5)" fill="#F8C8F0" stroke="#E02848" stroke-width="0.9"/>
<polyline points="678.1,474.6 683.5,471.2 684.2,479.4 690.9,472.7 690.8,483.0 698.1,474.8 697.5,486.2 705.0,477.4 704.4,488.9 711.9,480.4 711.5,491.3 718.5,483.7 718.7,493.2 724.9,487.7 726.4,494.0" fill="none" stroke="#E02848" stroke-width="1.1"/>
<path d="M657.5,401.7 C657.5,399.8 657.5,396.8 659.0,394.2 C660.5,391.6 663.5,388.5 666.5,386.0 C669.5,383.5 673.3,381.2 677.0,379.2 C680.7,377.2 685.7,374.8 688.9,374.0 C692.1,373.2 694.4,373.4 696.4,374.3 C698.4,375.2 700.4,377.0 700.6,379.2 C700.9,381.4 699.9,384.8 697.9,387.5 C695.9,390.2 692.4,393.3 688.9,395.7 C685.4,398.1 681.0,399.9 677.0,401.7 C673.0,403.4 668.0,405.6 665.0,406.2 C662.0,406.8 660.2,406.1 659.0,405.4 C657.8,404.6 657.5,403.6 657.5,401.7 Z" fill="#99F27A" stroke="#2A8A18" stroke-width="1.2"/>
<ellipse cx="685.2" cy="377.2" rx="3.6" ry="2.2" fill="#22991A" stroke="#0E700E" stroke-width="0.9"/>
<ellipse cx="683.8" cy="380.4" rx="3.6" ry="2.2" fill="#22991A" stroke="#0E700E" stroke-width="0.9"/>
<ellipse cx="694.2" cy="380.0" rx="3.6" ry="2.2" fill="#22991A" stroke="#0E700E" stroke-width="0.9"/>
<ellipse cx="692.8" cy="383.2" rx="3.6" ry="2.2" fill="#22991A" stroke="#0E700E" stroke-width="0.9"/>
<ellipse cx="675.5" cy="384.6" rx="3.6" ry="2.2" fill="#22991A" stroke="#0E700E" stroke-width="0.9"/>
<ellipse cx="674.1" cy="387.8" rx="3.6" ry="2.2" fill="#22991A" stroke="#0E700E" stroke-width="0.9"/>
<ellipse cx="686.0" cy="388.0" rx="3.6" ry="2.2" fill="#22991A" stroke="#0E700E" stroke-width="0.9"/>
<ellipse cx="684.6" cy="391.2" rx="3.6" ry="2.2" fill="#22991A" stroke="#0E700E" stroke-width="0.9"/>
<ellipse cx="666.5" cy="391.2" rx="3.6" ry="2.2" fill="#22991A" stroke="#0E700E" stroke-width="0.9"/>
<ellipse cx="665.1" cy="394.4" rx="3.6" ry="2.2" fill="#22991A" stroke="#0E700E" stroke-width="0.9"/>
<ellipse cx="677.0" cy="395.6" rx="3.6" ry="2.2" fill="#22991A" stroke="#0E700E" stroke-width="0.9"/>
<ellipse cx="675.6" cy="398.8" rx="3.6" ry="2.2" fill="#22991A" stroke="#0E700E" stroke-width="0.9"/>
<ellipse cx="665.2" cy="398.8" rx="3.6" ry="2.2" fill="#22991A" stroke="#0E700E" stroke-width="0.9"/>
<ellipse cx="663.8" cy="402.0" rx="3.6" ry="2.2" fill="#22991A" stroke="#0E700E" stroke-width="0.9"/>
<path d="M707.6,445.8 C707.9,444.4 709.1,442.5 710.5,441.5 C711.9,440.5 713.6,439.8 716.0,439.6 C718.4,439.5 722.1,439.7 724.9,440.6 C727.7,441.5 730.5,443.4 733.0,445.0 C735.5,446.6 737.6,448.6 739.8,450.3 C742.0,452.1 744.5,453.8 746.0,455.5 C747.5,457.2 748.2,458.8 748.8,460.8 C749.4,462.8 750.1,465.7 749.6,467.5 C749.1,469.3 747.1,471.2 745.5,471.8 C743.9,472.4 742.1,471.9 740.0,471.2 C737.9,470.5 735.0,468.7 733.0,467.5 C731.0,466.3 730.1,465.4 727.8,463.8 C725.5,462.2 721.5,459.8 719.0,458.0 C716.5,456.2 714.6,454.7 712.9,453.3 C711.2,451.9 709.5,450.9 708.6,449.6 C707.7,448.4 707.3,447.2 707.6,445.8 Z" fill="#99F27A" stroke="#2A8A18" stroke-width="1.2"/>
<ellipse cx="715.2" cy="445.7" rx="3.6" ry="2.2" fill="#22991A" stroke="#0E700E" stroke-width="0.9"/>
<ellipse cx="713.8" cy="448.9" rx="3.6" ry="2.2" fill="#22991A" stroke="#0E700E" stroke-width="0.9"/>
<ellipse cx="725.7" cy="444.2" rx="3.6" ry="2.2" fill="#22991A" stroke="#0E700E" stroke-width="0.9"/>
<ellipse cx="724.3" cy="447.4" rx="3.6" ry="2.2" fill="#22991A" stroke="#0E700E" stroke-width="0.9"/>
<ellipse cx="733.9" cy="450.2" rx="3.6" ry="2.2" fill="#22991A" stroke="#0E700E" stroke-width="0.9"/>
<ellipse cx="732.5" cy="453.4" rx="3.6" ry="2.2" fill="#22991A" stroke="#0E700E" stroke-width="0.9"/>
<ellipse cx="724.2" cy="453.4" rx="3.6" ry="2.2" fill="#22991A" stroke="#0E700E" stroke-width="0.9"/>
<ellipse cx="722.8" cy="456.6" rx="3.6" ry="2.2" fill="#22991A" stroke="#0E700E" stroke-width="0.9"/>
<ellipse cx="741.1" cy="457.2" rx="3.6" ry="2.2" fill="#22991A" stroke="#0E700E" stroke-width="0.9"/>
<ellipse cx="739.7" cy="460.4" rx="3.6" ry="2.2" fill="#22991A" stroke="#0E700E" stroke-width="0.9"/>
<ellipse cx="732.4" cy="461.6" rx="3.6" ry="2.2" fill="#22991A" stroke="#0E700E" stroke-width="0.9"/>
<ellipse cx="731.0" cy="464.8" rx="3.6" ry="2.2" fill="#22991A" stroke="#0E700E" stroke-width="0.9"/>
<ellipse cx="743.6" cy="465.0" rx="3.6" ry="2.2" fill="#22991A" stroke="#0E700E" stroke-width="0.9"/>
<ellipse cx="742.2" cy="468.2" rx="3.6" ry="2.2" fill="#22991A" stroke="#0E700E" stroke-width="0.9"/>
<path d="M765.5,493.7 C766.2,491.4 767.1,489.7 769.2,487.6 C771.3,485.5 775.3,483.0 778.3,480.9 C781.2,478.8 783.8,476.1 786.9,474.8 C790.0,473.5 793.6,473.3 796.7,473.3 C799.8,473.3 803.4,473.7 805.3,474.8 C807.2,475.9 808.1,478.1 808.3,479.7 C808.5,481.3 807.4,483.0 806.5,484.6 C805.6,486.2 804.8,487.7 802.8,489.5 C800.8,491.3 797.1,493.6 794.3,495.6 C791.4,497.6 788.9,500.1 785.7,501.7 C782.5,503.3 778.4,504.7 775.3,505.4 C772.2,506.1 769.0,506.6 767.3,506.0 C765.6,505.4 765.5,503.8 765.2,501.7 C764.9,499.6 764.8,496.0 765.5,493.7 Z" fill="#99F27A" stroke="#2A8A18" stroke-width="1.2"/>
<ellipse cx="791.4" cy="477.8" rx="3.6" ry="2.2" fill="#22991A" stroke="#0E700E" stroke-width="0.9"/>
<ellipse cx="790.0" cy="481.0" rx="3.6" ry="2.2" fill="#22991A" stroke="#0E700E" stroke-width="0.9"/>
<ellipse cx="801.5" cy="480.2" rx="3.6" ry="2.2" fill="#22991A" stroke="#0E700E" stroke-width="0.9"/>
<ellipse cx="800.1" cy="483.4" rx="3.6" ry="2.2" fill="#22991A" stroke="#0E700E" stroke-width="0.9"/>
<ellipse cx="782.5" cy="484.2" rx="3.6" ry="2.2" fill="#22991A" stroke="#0E700E" stroke-width="0.9"/>
<ellipse cx="781.1" cy="487.4" rx="3.6" ry="2.2" fill="#22991A" stroke="#0E700E" stroke-width="0.9"/>
<ellipse cx="793.2" cy="487.9" rx="3.6" ry="2.2" fill="#22991A" stroke="#0E700E" stroke-width="0.9"/>
<ellipse cx="791.8" cy="491.1" rx="3.6" ry="2.2" fill="#22991A" stroke="#0E700E" stroke-width="0.9"/>
<ellipse cx="773.9" cy="491.5" rx="3.6" ry="2.2" fill="#22991A" stroke="#0E700E" stroke-width="0.9"/>
<ellipse cx="772.5" cy="494.7" rx="3.6" ry="2.2" fill="#22991A" stroke="#0E700E" stroke-width="0.9"/>
<ellipse cx="784.0" cy="495.8" rx="3.6" ry="2.2" fill="#22991A" stroke="#0E700E" stroke-width="0.9"/>
<ellipse cx="782.6" cy="499.0" rx="3.6" ry="2.2" fill="#22991A" stroke="#0E700E" stroke-width="0.9"/>
<ellipse cx="773.0" cy="499.5" rx="3.6" ry="2.2" fill="#22991A" stroke="#0E700E" stroke-width="0.9"/>
<ellipse cx="771.6" cy="502.7" rx="3.6" ry="2.2" fill="#22991A" stroke="#0E700E" stroke-width="0.9"/>
<circle cx="764.5" cy="374.5" r="59" fill="#FF6699" stroke="#CC1030" stroke-width="1.6"/>
<circle cx="787.3" cy="367.5" r="22.2" fill="#F8C8F8" stroke="#A070D0" stroke-width="1.2"/>
<line x1="797.4" y1="299.8" x2="801.9" y2="299.8" stroke="#F0A050" stroke-width="1.1"/>
<line x1="796.4" y1="303.6" x2="800.3" y2="305.9" stroke="#F0A050" stroke-width="1.1"/>
<line x1="793.6" y1="306.4" x2="795.8" y2="310.3" stroke="#F0A050" stroke-width="1.1"/>
<line x1="789.8" y1="307.4" x2="789.8" y2="311.9" stroke="#F0A050" stroke-width="1.1"/>
<line x1="786.0" y1="306.4" x2="783.8" y2="310.3" stroke="#F0A050" stroke-width="1.1"/>
<line x1="783.2" y1="303.6" x2="779.3" y2="305.9" stroke="#F0A050" stroke-width="1.1"/>
<line x1="782.2" y1="299.8" x2="777.7" y2="299.8" stroke="#F0A050" stroke-width="1.1"/>
<line x1="783.2" y1="296.0" x2="779.3" y2="293.8" stroke="#F0A050" stroke-width="1.1"/>
<line x1="786.0" y1="293.2" x2="783.8" y2="289.3" stroke="#F0A050" stroke-width="1.1"/>
<line x1="789.8" y1="292.2" x2="789.8" y2="287.7" stroke="#F0A050" stroke-width="1.1"/>
<line x1="793.6" y1="293.2" x2="795.8" y2="289.3" stroke="#F0A050" stroke-width="1.1"/>
<line x1="796.4" y1="296.0" x2="800.3" y2="293.8" stroke="#F0A050" stroke-width="1.1"/>
<circle cx="789.8" cy="299.8" r="7.6" fill="#FF9A52"/>
<circle cx="680.6" cy="350.6" r="1.9" fill="#C8A8EC" stroke="#8A50C8" stroke-width="1"/>
<circle cx="688.2" cy="347.2" r="1.9" fill="#C8A8EC" stroke="#8A50C8" stroke-width="1"/>
<circle cx="687.4" cy="340.5" r="1.9" fill="#C8A8EC" stroke="#8A50C8" stroke-width="1"/>
<circle cx="678.5" cy="344.7" r="1.9" fill="#C8A8EC" stroke="#8A50C8" stroke-width="1"/>
<circle cx="693.3" cy="345.4" r="1.9" fill="#C8A8EC" stroke="#8A50C8" stroke-width="1"/>
<circle cx="684.5" cy="355.4" r="1.9" fill="#C8A8EC" stroke="#8A50C8" stroke-width="1"/>
<circle cx="691.5" cy="352.3" r="1.9" fill="#C8A8EC" stroke="#8A50C8" stroke-width="1"/>
<circle cx="682.3" cy="340.4" r="1.9" fill="#C8A8EC" stroke="#8A50C8" stroke-width="1"/>
<circle cx="878.0" cy="341.2" r="1.9" fill="#C8A8EC" stroke="#8A50C8" stroke-width="1"/>
<circle cx="887.2" cy="344.5" r="1.9" fill="#C8A8EC" stroke="#8A50C8" stroke-width="1"/>
<circle cx="893.3" cy="344.1" r="1.9" fill="#C8A8EC" stroke="#8A50C8" stroke-width="1"/>
<circle cx="886.2" cy="353.1" r="1.9" fill="#C8A8EC" stroke="#8A50C8" stroke-width="1"/>
<circle cx="880.6" cy="350.9" r="1.9" fill="#C8A8EC" stroke="#8A50C8" stroke-width="1"/>
<circle cx="875.4" cy="347.2" r="1.9" fill="#C8A8EC" stroke="#8A50C8" stroke-width="1"/>
<circle cx="881.4" cy="345.7" r="1.9" fill="#C8A8EC" stroke="#8A50C8" stroke-width="1"/>
<circle cx="884.0" cy="339.8" r="1.9" fill="#C8A8EC" stroke="#8A50C8" stroke-width="1"/>
<circle cx="893.0" cy="350.1" r="1.9" fill="#C8A8EC" stroke="#8A50C8" stroke-width="1"/>
<circle cx="884.9" cy="419.8" r="1.9" fill="#C8A8EC" stroke="#8A50C8" stroke-width="1"/>
<circle cx="883.6" cy="414.3" r="1.9" fill="#C8A8EC" stroke="#8A50C8" stroke-width="1"/>
<circle cx="876.8" cy="420.2" r="1.9" fill="#C8A8EC" stroke="#8A50C8" stroke-width="1"/>
<circle cx="883.3" cy="425.6" r="1.9" fill="#C8A8EC" stroke="#8A50C8" stroke-width="1"/>
<circle cx="892.5" cy="418.7" r="1.9" fill="#C8A8EC" stroke="#8A50C8" stroke-width="1"/>
<circle cx="878.1" cy="413.9" r="1.9" fill="#C8A8EC" stroke="#8A50C8" stroke-width="1"/>
<circle cx="888.7" cy="425.1" r="1.9" fill="#C8A8EC" stroke="#8A50C8" stroke-width="1"/>
<circle cx="878.9" cy="428.7" r="1.9" fill="#C8A8EC" stroke="#8A50C8" stroke-width="1"/>
<circle cx="874.7" cy="425.7" r="1.9" fill="#C8A8EC" stroke="#8A50C8" stroke-width="1"/>
<circle cx="884.9" cy="430.4" r="1.9" fill="#C8A8EC" stroke="#8A50C8" stroke-width="1"/>
<circle cx="888.9" cy="414.1" r="1.9" fill="#C8A8EC" stroke="#8A50C8" stroke-width="1"/>
<polygon points="823.0,322.0 831.0,318.0 840.0,340.0 845.0,358.0 840.0,372.0 833.0,374.0 831.0,360.0 826.0,342.0" fill="#5CCACA" stroke="#128A8A" stroke-width="1.1" stroke-linejoin="round"/>
<polygon points="833.0,362.0 840.0,358.0 844.0,372.0 838.0,380.0" fill="#5CCACA" stroke="#128A8A" stroke-width="1.1" stroke-linejoin="round"/>
<polygon points="817.2,312.9 824.3,306.4 837.2,308.6 847.2,318.6 854.4,325.8 851.5,340.0 855.8,351.5 860.1,360.1 854.4,361.5 842.9,357.2 835.8,347.2 828.6,332.9 821.5,321.5" fill="#5CCACA" stroke="#128A8A" stroke-width="1.1" stroke-linejoin="round"/>
<polygon points="808.6,327.2 818.6,323.5 824.0,335.0 814.0,340.0" fill="#5CCACA" stroke="#128A8A" stroke-width="1.1" stroke-linejoin="round"/>
<polygon points="814.0,340.0 824.0,335.0 829.0,350.0 819.0,355.0" fill="#5CCACA" stroke="#128A8A" stroke-width="1.1" stroke-linejoin="round"/>
<polygon points="819.0,355.0 829.0,350.0 832.5,363.0 822.0,366.0" fill="#5CCACA" stroke="#128A8A" stroke-width="1.1" stroke-linejoin="round"/>
<polygon points="822.0,366.0 832.5,363.0 831.5,380.0 823.0,381.0" fill="#5CCACA" stroke="#128A8A" stroke-width="1.1" stroke-linejoin="round"/>
<polygon points="823.0,381.0 831.5,380.0 831.5,399.0 823.6,399.0" fill="#5CCACA" stroke="#128A8A" stroke-width="1.1" stroke-linejoin="round"/>
<polygon points="850.0,357.0 857.0,355.0 862.0,363.0 856.0,366.0" fill="#5CCACA" stroke="#128A8A" stroke-width="1.1" stroke-linejoin="round"/>
<polygon points="831.5,381.5 841.5,377.3 842.9,388.7 852.9,391.6 854.4,400.1 842.9,403.0 832.9,401.6" fill="#5CCACA" stroke="#128A8A" stroke-width="1.1" stroke-linejoin="round"/>
<polygon points="835.0,385.0 841.0,382.0 842.0,398.0 836.0,400.0" fill="#5CCACA" stroke="#128A8A" stroke-width="1.1" stroke-linejoin="round"/>
<path d="M844.3,367.2 C846.2,364.3 851.3,363.1 854.4,362.9 C857.5,362.7 860.9,363.9 863.0,365.8 C865.1,367.7 867.0,371.5 867.2,374.4 C867.4,377.3 866.5,380.6 864.4,383.0 C862.3,385.4 857.5,387.5 854.4,388.7 C851.3,389.9 847.7,391.5 845.8,390.1 C843.9,388.7 843.1,383.9 842.9,380.1 C842.6,376.3 842.4,370.1 844.3,367.2 Z" fill="#5CCACA" stroke="#128A8A" stroke-width="1.1"/>
<line x1="824" y1="312" x2="830" y2="330" stroke="#128A8A" stroke-width="0.9"/>
<line x1="830" y1="330" x2="838" y2="348" stroke="#128A8A" stroke-width="0.9"/>
<line x1="832" y1="310" x2="842" y2="322" stroke="#128A8A" stroke-width="0.9"/>
<line x1="840" y1="322" x2="848" y2="336" stroke="#128A8A" stroke-width="0.9"/>
<line x1="826" y1="320" x2="822" y2="324" stroke="#128A8A" stroke-width="0.9"/>
<circle cx="820.5" cy="311.2" r="2.0" fill="#9A7CEC" stroke="#6A44CC" stroke-width="0.9"/>
<circle cx="834.9" cy="342.6" r="2.0" fill="#9A7CEC" stroke="#6A44CC" stroke-width="0.9"/>
<circle cx="825.3" cy="311.2" r="2.0" fill="#9A7CEC" stroke="#6A44CC" stroke-width="0.9"/>
<circle cx="840.4" cy="329.6" r="2.0" fill="#9A7CEC" stroke="#6A44CC" stroke-width="0.9"/>
<circle cx="827.5" cy="323.2" r="2.0" fill="#9A7CEC" stroke="#6A44CC" stroke-width="0.9"/>
<circle cx="828.0" cy="316.9" r="2.0" fill="#9A7CEC" stroke="#6A44CC" stroke-width="0.9"/>
<circle cx="842.2" cy="335.1" r="2.0" fill="#9A7CEC" stroke="#6A44CC" stroke-width="0.9"/>
<circle cx="833.5" cy="316.2" r="2.0" fill="#9A7CEC" stroke="#6A44CC" stroke-width="0.9"/>
<circle cx="851.8" cy="359.4" r="2.0" fill="#9A7CEC" stroke="#6A44CC" stroke-width="0.9"/>
<circle cx="844.4" cy="317.1" r="2.0" fill="#9A7CEC" stroke="#6A44CC" stroke-width="0.9"/>
<circle cx="832.7" cy="326.8" r="2.0" fill="#9A7CEC" stroke="#6A44CC" stroke-width="0.9"/>
<circle cx="844.6" cy="351.0" r="2.0" fill="#9A7CEC" stroke="#6A44CC" stroke-width="0.9"/>
<circle cx="856.5" cy="358.7" r="2.0" fill="#9A7CEC" stroke="#6A44CC" stroke-width="0.9"/>
<circle cx="842.9" cy="343.2" r="2.0" fill="#9A7CEC" stroke="#6A44CC" stroke-width="0.9"/>
<circle cx="837.3" cy="349.0" r="2.0" fill="#9A7CEC" stroke="#6A44CC" stroke-width="0.9"/>
<circle cx="852.5" cy="331.2" r="2.0" fill="#9A7CEC" stroke="#6A44CC" stroke-width="0.9"/>
<circle cx="834.3" cy="320.5" r="2.0" fill="#9A7CEC" stroke="#6A44CC" stroke-width="0.9"/>
<circle cx="827.0" cy="330.0" r="2.0" fill="#9A7CEC" stroke="#6A44CC" stroke-width="0.9"/>
<circle cx="846.4" cy="333.8" r="2.0" fill="#9A7CEC" stroke="#6A44CC" stroke-width="0.9"/>
<circle cx="837.7" cy="312.3" r="2.0" fill="#9A7CEC" stroke="#6A44CC" stroke-width="0.9"/>
<circle cx="848.3" cy="356.9" r="2.0" fill="#9A7CEC" stroke="#6A44CC" stroke-width="0.9"/>
<circle cx="851.1" cy="326.1" r="2.0" fill="#9A7CEC" stroke="#6A44CC" stroke-width="0.9"/>
<circle cx="822.5" cy="318.7" r="2.0" fill="#9A7CEC" stroke="#6A44CC" stroke-width="0.9"/>
<circle cx="831.3" cy="331.1" r="2.0" fill="#9A7CEC" stroke="#6A44CC" stroke-width="0.9"/>
<circle cx="840.6" cy="322.6" r="2.0" fill="#9A7CEC" stroke="#6A44CC" stroke-width="0.9"/>
<circle cx="846.0" cy="322.8" r="2.0" fill="#9A7CEC" stroke="#6A44CC" stroke-width="0.9"/>
<circle cx="835.5" cy="334.6" r="2.0" fill="#9A7CEC" stroke="#6A44CC" stroke-width="0.9"/>
<circle cx="854.2" cy="350.5" r="2.0" fill="#9A7CEC" stroke="#6A44CC" stroke-width="0.9"/>
<circle cx="841.6" cy="355.0" r="2.0" fill="#9A7CEC" stroke="#6A44CC" stroke-width="0.9"/>
<circle cx="851.0" cy="345.4" r="2.0" fill="#9A7CEC" stroke="#6A44CC" stroke-width="0.9"/>
<circle cx="846.9" cy="338.6" r="2.0" fill="#9A7CEC" stroke="#6A44CC" stroke-width="0.9"/>
<circle cx="829.8" cy="309.1" r="2.0" fill="#9A7CEC" stroke="#6A44CC" stroke-width="0.9"/>
<circle cx="850.7" cy="335.7" r="2.0" fill="#9A7CEC" stroke="#6A44CC" stroke-width="0.9"/>
<circle cx="834.7" cy="309.0" r="2.0" fill="#9A7CEC" stroke="#6A44CC" stroke-width="0.9"/>
<path d="M804.3,432.5 C805.5,429.6 808.3,427.8 810.8,426.7 C813.4,425.6 816.7,426.1 819.6,425.6 C822.5,425.1 825.2,424.3 828.3,423.8 C831.5,423.3 835.1,422.5 838.5,422.7 C841.9,422.9 846.5,424.3 848.7,425.2 C851.0,426.1 851.9,426.7 852.0,428.2 C852.1,429.7 849.1,432.4 849.2,434.0 C849.3,435.6 853.2,435.7 852.4,437.6 C851.6,439.6 846.3,443.1 844.3,445.7 C842.4,448.2 842.4,450.7 840.7,452.9 C839.0,455.1 836.5,457.7 834.1,458.8 C831.7,459.9 828.1,458.3 826.2,459.5 C824.3,460.7 824.5,464.8 822.7,466.1 C820.9,467.4 817.8,468.0 815.2,467.5 C812.6,467.0 808.9,465.5 807.2,463.1 C805.5,460.7 805.6,456.0 805.0,452.9 C804.4,449.8 803.6,447.6 803.5,444.2 C803.4,440.8 803.1,435.4 804.3,432.5 Z" fill="#9C70E2" stroke="#CC38DC" stroke-width="1.3"/>
<g transform="translate(517.7,4.5)" fill="none" stroke="#CC38DC" stroke-width="1.4" stroke-linejoin="round">
<polygon points="294.6,446.3 311.3,425.1 316,427 300,448" fill="#A860E0"/>
<polygon points="304,442.6 317.9,424.4 322.5,426 308.5,446" fill="#A860E0"/>
<polygon points="311.3,452.8 327.4,426.6 331.5,429.5 316,454"/>
<polygon points="298.2,461.6 309.2,443.3 314,445 303,462"/>
<polyline points="291,446 305,441 323.7,441.2"/>
<polyline points="305.5,436 320,433 334,432.4"/>
<polyline points="307.7,423.7 320,421.5 332.5,422.2"/>
</g>
<path d="M892,295.7 C891,298.5 889.5,301 888,302.6 C886,304 884,304.3 882.2,304.5 C879,306 877,308 875.4,310.4 C873,314 872,317 871.5,320.2 C870.5,325 869.8,330 868.6,333.9 C867.5,338 865.5,341 864.7,343.6 C864.3,348 864.3,352 864.7,355.4 C865.5,360 867.5,364 869.5,367.1 C872,371 875,375 877.4,378.8 C880,383 883,386.5 885.2,389.6 C883.5,390.5 881.5,391.3 880.3,392.5 C878.8,395.5 878.3,399 877.4,402.3 C876.3,406 875,409 873.5,412 C871.5,415 869,418 866.6,419.8 C864.5,421.5 862.5,423.5 860.7,424.7" fill="none" stroke="#1c1c1c" stroke-width="5.2" stroke-linecap="round" stroke-linejoin="round"/>
<text x="574" y="202" fill="#127614" stroke="#127614" stroke-width="0.35" font-size="12" font-weight="bold" textLength="55.0" lengthAdjust="spacingAndGlyphs">Cell Wall</text>
<text x="596" y="245" fill="#1430A0" stroke="#1430A0" stroke-width="0.35" font-size="12" font-weight="bold" textLength="24.0" lengthAdjust="spacingAndGlyphs">Cell</text>
<text x="576" y="260" fill="#1430A0" stroke="#1430A0" stroke-width="0.35" font-size="12" font-weight="bold" textLength="68.0" lengthAdjust="spacingAndGlyphs">Membrane</text>
<text x="580" y="293" fill="#102080" stroke="#102080" stroke-width="0.35" font-size="12" font-weight="bold" textLength="52.5" lengthAdjust="spacingAndGlyphs">Vacuole</text>
<text x="577.5" y="335" fill="#C02010" stroke="#C02010" stroke-width="0.35" font-size="12" font-weight="bold" textLength="53.0" lengthAdjust="spacingAndGlyphs">Nucleus</text>
<text x="564" y="370" fill="#9080E0" stroke="#9080E0" stroke-width="0.35" font-size="12" font-weight="bold" textLength="65.0" lengthAdjust="spacingAndGlyphs">Nucleolus</text>
<text x="574" y="405" fill="#602010" stroke="#602010" stroke-width="0.35" font-size="12" font-weight="bold" textLength="50.0" lengthAdjust="spacingAndGlyphs">Nuclear</text>
<text x="566" y="420" fill="#602010" stroke="#602010" stroke-width="0.35" font-size="12" font-weight="bold" textLength="68.0" lengthAdjust="spacingAndGlyphs">Membrane</text>
<text x="556" y="461.5" fill="#44A024" stroke="#44A024" stroke-width="0.35" font-size="12" font-weight="bold" textLength="77.0" lengthAdjust="spacingAndGlyphs">Chloroplast</text>
<text x="559" y="516" fill="#C03010" stroke="#C03010" stroke-width="0.35" font-size="12" font-weight="bold" textLength="96.0" lengthAdjust="spacingAndGlyphs">Mitochondrion</text>
<text x="922" y="193" fill="#704010" stroke="#704010" stroke-width="0.35" font-size="12" font-weight="bold" textLength="69.0" lengthAdjust="spacingAndGlyphs">Cytoplasm</text>
<text x="930" y="246.5" fill="#D02010" stroke="#D02010" stroke-width="0.35" font-size="12" font-weight="bold" textLength="74.5" lengthAdjust="spacingAndGlyphs">Amyloplast</text>
<text x="924.5" y="303" fill="#F08020" stroke="#F08020" stroke-width="0.35" font-size="12" font-weight="bold" textLength="80.0" lengthAdjust="spacingAndGlyphs">Centrosome</text>
<text x="922.5" y="336.5" fill="#107060" stroke="#107060" stroke-width="0.35" font-size="12" font-weight="bold" textLength="65.5" lengthAdjust="spacingAndGlyphs">Rough ER</text>
<text x="919" y="379" fill="#20A0C0" stroke="#20A0C0" stroke-width="0.35" font-size="12" font-weight="bold" textLength="72.0" lengthAdjust="spacingAndGlyphs">Smooth ER</text>
<text x="920.5" y="453.5" fill="#705090" stroke="#705090" stroke-width="0.35" font-size="12" font-weight="bold" textLength="73.5" lengthAdjust="spacingAndGlyphs">Ribosomes</text>
<text x="892.5" y="505" fill="#A020A0" stroke="#A020A0" stroke-width="0.35" font-size="12" font-weight="bold" textLength="72.5" lengthAdjust="spacingAndGlyphs">Golgi Body</text>
<text x="848" y="525.5" fill="#2A3A22" font-size="12" font-weight="normal" textLength="158.0" lengthAdjust="spacingAndGlyphs">©EnchantedLearning.com</text>
<line x1="635.0" y1="199.5" x2="652.3" y2="199.5" stroke="#111" stroke-width="1.2"/>
<polygon points="662.3,199.5 652.3,204.0 652.3,195.0" fill="#000"/>
<line x1="637.5" y1="249.0" x2="650.0" y2="249.0" stroke="#111" stroke-width="1.2"/>
<polygon points="660.0,249.0 650.0,253.5 650.0,244.5" fill="#000"/>
<line x1="639.0" y1="290.3" x2="719.0" y2="290.3" stroke="#111" stroke-width="1.2"/>
<polygon points="729.0,290.3 719.0,294.8 719.0,285.8" fill="#000"/>
<line x1="638.0" y1="333.0" x2="742.0" y2="333.0" stroke="#333" stroke-width="1.2"/>
<polygon points="752.0,333.0 742.0,337.5 742.0,328.5" fill="#000"/>
<line x1="633.0" y1="367.7" x2="772.5" y2="367.7" stroke="#333" stroke-width="1.2"/>
<polygon points="782.5,367.7 772.5,372.2 772.5,363.2" fill="#000"/>
<line x1="635.0" y1="412.6" x2="708.5" y2="412.6" stroke="#111" stroke-width="1.2"/>
<polygon points="718.5,412.6 708.5,417.1 708.5,408.1" fill="#000"/>
<line x1="635.0" y1="457.8" x2="719.5" y2="457.8" stroke="#555" stroke-width="1.2"/>
<polygon points="729.5,457.8 719.5,462.3 719.5,453.3" fill="#000"/>
<line x1="662.5" y1="514.5" x2="684.2" y2="491.3" stroke="#111" stroke-width="1.2"/>
<polygon points="691.0,484.0 687.5,494.4 680.9,488.2" fill="#000"/>
<line x1="917.0" y1="191.0" x2="903.2" y2="204.1" stroke="#111" stroke-width="1.2"/>
<polygon points="896.0,211.0 900.1,200.8 906.3,207.4" fill="#000"/>
<line x1="918.8" y1="243.0" x2="896.0" y2="243.0" stroke="#111" stroke-width="1.2"/>
<polygon points="886.0,243.0 896.0,238.5 896.0,247.5" fill="#000"/>
<line x1="920.0" y1="300.0" x2="810.0" y2="300.0" stroke="#111" stroke-width="1.2"/>
<polygon points="800.0,300.0 810.0,295.5 810.0,304.5" fill="#000"/>
<line x1="916.0" y1="331.0" x2="855.0" y2="331.0" stroke="#111" stroke-width="1.2"/>
<polygon points="845.0,331.0 855.0,326.5 855.0,335.5" fill="#000"/>
<line x1="914.5" y1="375.0" x2="877.5" y2="375.0" stroke="#111" stroke-width="1.2"/>
<line x1="914.5" y1="450.0" x2="898.0" y2="433.1" stroke="#111" stroke-width="1.2"/>
<polygon points="891.0,426.0 901.2,430.0 894.8,436.3" fill="#000"/>
<line x1="889.0" y1="499.0" x2="843.2" y2="454.5" stroke="#111" stroke-width="1.2"/>
<polygon points="836.0,447.5 846.3,451.2 840.0,457.7" fill="#000"/>
</g>
<g fill="none" stroke="#1c1c1c" stroke-width="5" stroke-linecap="round" stroke-linejoin="round">
<path d="M96.4,580.9 C95.5,595 92.5,615 91,630 C89.8,645 89.2,660 87.6,669"/>
<path d="M98,585.6 C103,589 108,596 119,612.2 C126,623 132,634 136.3,643.4 C139,649 140.5,653 142.3,655.8"/>
<path d="M93.3,636.4 C99,634 106,631 113.6,629.4 C117,628.6 119.5,627.8 121,627"/>
<path d="M172.2,613.8 C172.8,625 173.3,645 173.8,664.5"/>
<path d="M174.5,654.4 C179,645 184,636 190,628 C195,621 201,615 205.8,614.5 C209,615 210,622 211,630 C212,640 212,648 212,654.4"/>
<path d="M233.9,595 L234,595.3"/>
<path d="M232.3,623 C233.5,635 235.3,648 236.3,657.5"/>
<path d="M269.5,615.5 L269.5,653.5"/>
<path d="M270.4,629.4 C274,624 279,618 284,614 C287,612 291,611 293.6,613.6 C296,618 296.5,630 296.75,649.8"/>
<path d="M295.5,620 C298,615 302,610.5 306,609.5 C309,609 311,611 313,622 C315,632 316,648 317.2,660"/>
<path d="M362.2,609.9 C359,610.5 356.5,611.5 354.5,614 C351.5,620 350,635 349.3,648 C349.5,655 350,660 351.5,661 C355,658 359,652 362,645 C366,636 369,624 370.6,614.5 C372,624 375,636 377.5,648 C378.5,654 379,659 380,660.5 C381.5,661.5 383,661.5 384,661.3"/>
<path d="M422.2,588.6 C424.5,594 425.3,600 425.3,610 C425.5,625 425.3,640 424.8,655 C424.3,668 423.8,676 423.5,683.2"/>
<path d="M500.5,625.4 C503,631 506,638 508.5,645 C510.5,652 511.5,660 511.8,665.4"/>
<path d="M511.3,660 C512.5,652 514,644 516,636 C518,628 521,619 523.5,613.5"/>
<path d="M557.9,626.4 C555,624 551,623 547,623.7 C541,625 536,629 534.6,634 C534,639 537,643 542,645.5 C548,648 555,650 557,655 C559,661 555,665.5 549.7,666.2 C544,667 538,665 535.4,660.2"/>
<path d="M623.6,614.1 C626,615 628.5,615.8 630.5,617.5 C632,622 633,627 634,632 C635.5,640 637.5,648 639.5,655 C641,661 642.5,666 644,670.9"/>
<path d="M630.6,614.7 C633,610.5 638,605.5 644.3,601.7 C648,599.5 655,596.5 660.5,595 C662.5,598 664.5,606 665.7,612.8 C666.8,619 667.7,625 667,631.6 C664,633.3 660,633.6 655,633.6 C648,633.6 642,634.2 637.8,634.9 C634.5,635.5 632,636.2 630,636.8"/>
<path d="M626.6,622.3 L629.5,621"/>
<path d="M696.1,589.3 C698.5,592 699,596 699,601 C698.8,615 698.5,640 698.3,662.4"/>
<path d="M765.5,626.3 C760,626 752,625.5 744.5,625.6 C738,626.5 733,629 729,634 C726.5,638 727,645 731,649.5 C735,653 740,655 745,654 C749,652.5 752,648 753.5,643 C755,638 756,634 756.3,632.3 C758,640 760,650 761.6,660.2"/>
<path d="M797.1,616.2 C797.3,630 797,645 796.4,658"/>
<path d="M797.1,643 C800,636 803,629 807,624 C811,619 815,615.5 818.5,615.5 C822,616 824.2,619 825,624 C826,633 826.1,645 826.1,654.9"/>
<path d="M864.3,606.1 C864.5,625 865,645 865.2,665.6"/>
<path d="M840,639.2 C846,637.5 851,636.4 856.2,635.5 C862,634 868,632.5 873.4,631.2 C878,629.5 882,628 886.3,626.3"/>
</g>
</svg></body></html>
